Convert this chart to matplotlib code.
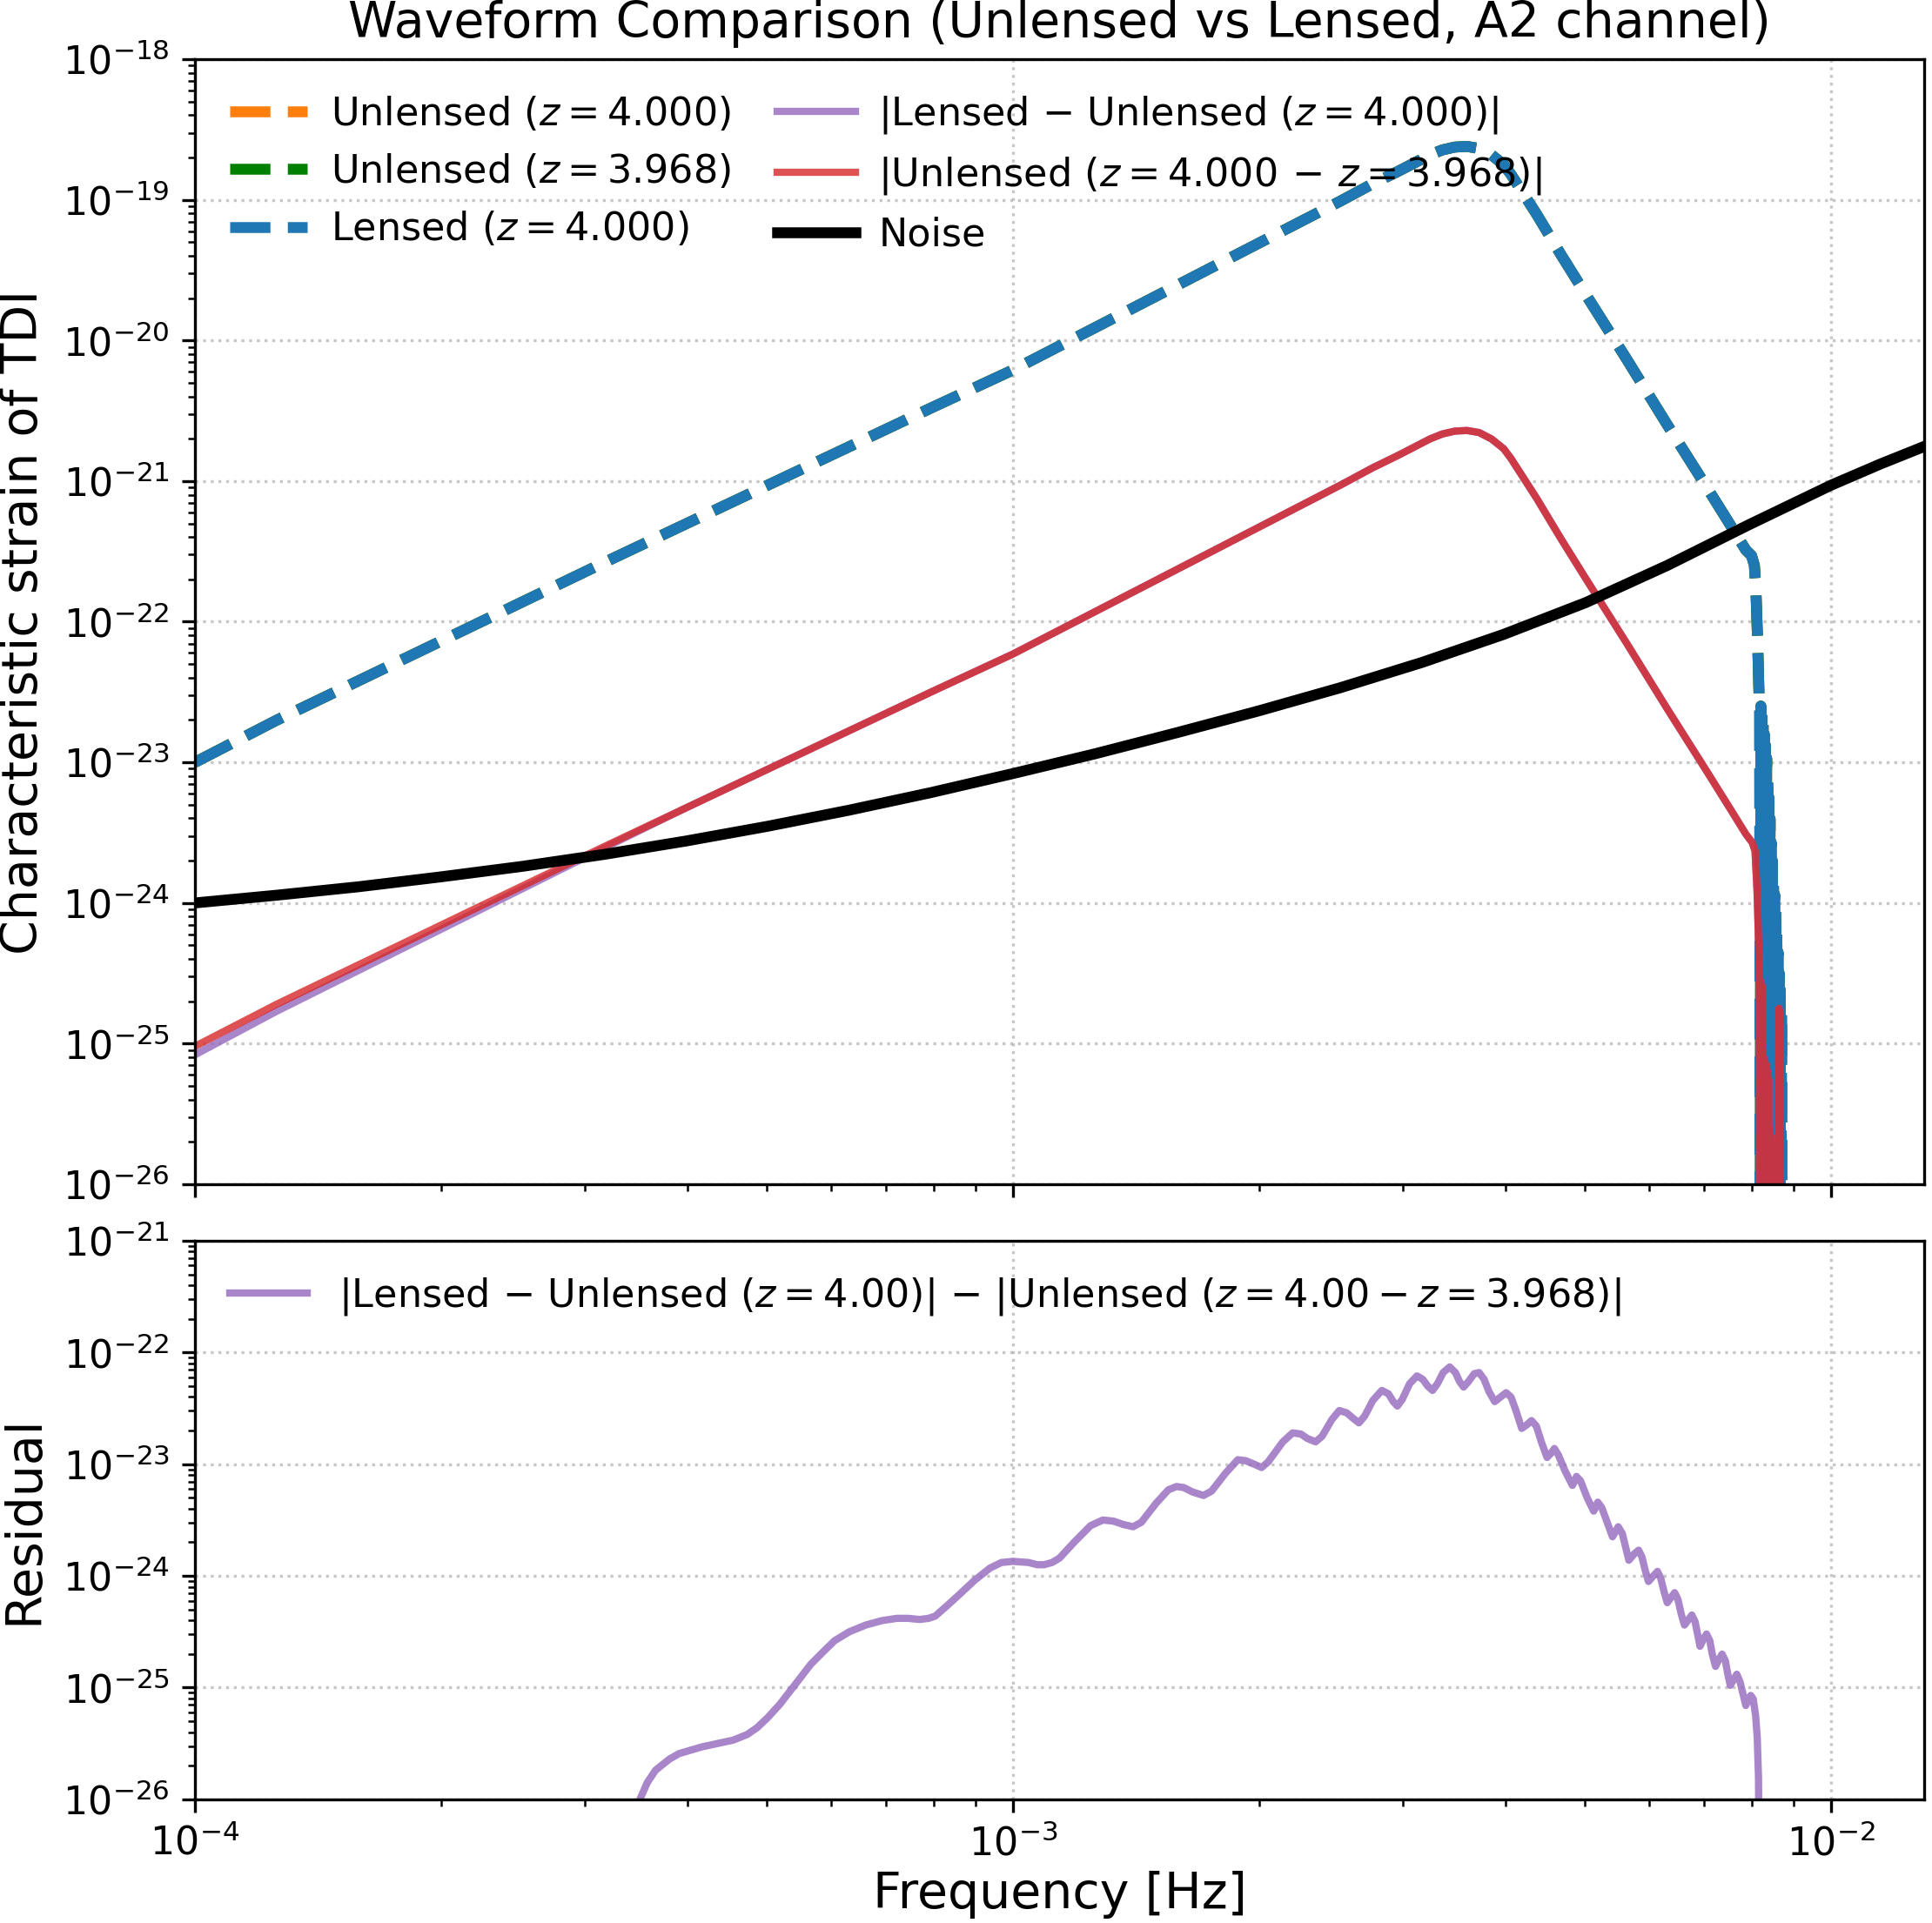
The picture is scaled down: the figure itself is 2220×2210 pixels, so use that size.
import numpy as np
import matplotlib
matplotlib.use("Agg")
import matplotlib.pyplot as plt

# all curve values are stored as log10(frequency [Hz]) and log10(strain)

# lensed / unlensed signal (the three dashed curves coincide)
logf_signal = [-4.000, -3.900, -3.800, -3.700, -3.600, -3.500, -3.400, -3.300, -3.200,
               -3.100, -3.000, -2.950, -2.900, -2.850, -2.800, -2.750, -2.700, -2.650,
               -2.600, -2.560, -2.530, -2.510, -2.490, -2.475, -2.460, -2.445, -2.430,
               -2.415, -2.400, -2.391, -2.360, -2.330, -2.300, -2.250, -2.200, -2.150,
               -2.121, -2.104, -2.097, -2.0935, -2.0915, -2.0895, -2.0877,
               # ringdown
               -2.0870, -2.0863, -2.0856, -2.0849, -2.0842, -2.0835, -2.0828, -2.0821,
               -2.0814, -2.0807, -2.0800, -2.0793, -2.0786, -2.0779, -2.0772, -2.0765,
               -2.0758, -2.0751, -2.0744, -2.0737, -2.0730, -2.0723, -2.0716, -2.0709,
               -2.0702, -2.0695, -2.0688, -2.0681, -2.0674, -2.0667, -2.0660, -2.0653,
               -2.0646, -2.0639, -2.0632, -2.0625, -2.0618, -2.0611, -2.0604, -2.0597]
logh_signal = [-23.00, -22.70, -22.42, -22.14, -21.86, -21.58, -21.305, -21.03, -20.755,
               -20.48, -20.21, -20.06, -19.91, -19.76, -19.61, -19.46, -19.31, -19.16,
               -19.01, -18.885, -18.80, -18.74, -18.68, -18.645, -18.625, -18.62, -18.635,
               -18.68, -18.75, -18.82, -19.10, -19.39, -19.67, -20.13, -20.60, -21.06,
               -21.33, -21.49, -21.53, -21.60, -21.80, -22.15, -22.55,
               -22.56, -27.0, -22.60, -27.0, -22.66, -27.0, -22.73, -27.0,
               -22.80, -27.0, -22.88, -27.0, -22.97, -27.0, -23.10, -27.0,
               -23.25, -27.0, -23.40, -27.0, -23.57, -27.0, -23.70, -27.0,
               -23.82, -27.0, -23.94, -27.0, -24.05, -27.0, -24.20, -27.0,
               -24.35, -27.0, -24.50, -27.0, -24.62, -27.0, -24.77, -27.0]
logh_unl_z4000 = logh_signal
logh_unl_z3968 = logh_signal

# |Unlensed(z=4.000) - Unlensed(z=3.968)|
logf_diff = [-4.000, -3.900, -3.800, -3.700, -3.600, -3.500, -3.400, -3.300, -3.200,
             -3.100, -3.000, -2.950, -2.900, -2.850, -2.800, -2.750, -2.700, -2.650,
             -2.600, -2.560, -2.530, -2.510, -2.490, -2.475, -2.460, -2.445, -2.430,
             -2.415, -2.400, -2.391, -2.360, -2.330, -2.300, -2.250, -2.200, -2.150,
             -2.121, -2.104, -2.0962, -2.0927, -2.0902, -2.0881, -2.0867, -2.0862,
             # ringdown
             -2.0858, -2.0852, -2.0846, -2.0840, -2.0834, -2.0828, -2.0822, -2.0816,
             -2.0810, -2.0804, -2.0798, -2.0792, -2.0786, -2.0780, -2.0774, -2.0768,
             -2.0762, -2.0756, -2.0750, -2.0744, -2.0738, -2.0732, -2.0726, -2.0720,
             -2.0714, -2.0708, -2.0702, -2.0696, -2.0640, -2.0634, -2.0628, -2.0622,
             -2.0616]
logh_unl_diff = [-25.02, -24.72, -24.44, -24.16, -23.88, -23.60, -23.325, -23.05, -22.775,
                 -22.50, -22.23, -22.08, -21.93, -21.78, -21.63, -21.48, -21.33, -21.18,
                 -21.03, -20.905, -20.82, -20.76, -20.70, -20.665, -20.645, -20.64, -20.655,
                 -20.70, -20.77, -20.84, -21.12, -21.41, -21.69, -22.15, -22.62, -23.08,
                 -23.35, -23.51, -23.57, -23.63, -23.92, -24.33, -24.65, -27.0,
                 -24.56, -27.0, -24.58, -27.0, -25.05, -27.0, -25.10, -27.0,
                 -25.12, -27.0, -25.15, -27.0, -25.15, -27.0, -25.20, -27.0,
                 -25.25, -27.0, -25.60, -27.0, -25.65, -27.0, -25.70, -27.0,
                 -25.75, -27.0, -25.80, -27.0, -27.0, -24.75, -27.0, -24.78,
                 -27.0]
# |Lensed - Unlensed(z=4.000)|: same as above except at the lowest frequencies
logh_lens_diff = [-25.08, -24.77, -24.48, -24.19, -23.90, -23.61] + logh_unl_diff[6:]

# noise curve
logf_noise = [-4.0, -3.9, -3.8, -3.7, -3.6, -3.5, -3.4, -3.3, -3.2, -3.1, -3.0, -2.9,
              -2.8, -2.7, -2.6, -2.5, -2.4, -2.3, -2.2, -2.1, -2.0, -1.94, -1.88]
logh_noise = [-24.00, -23.945, -23.885, -23.815, -23.74, -23.655, -23.56, -23.455,
              -23.34, -23.215, -23.08, -22.94, -22.79, -22.635, -22.47, -22.29, -22.09,
              -21.865, -21.60, -21.31, -21.03, -20.88, -20.74]

# residual (bottom panel)
logf_resid = [-3.456, -3.447, -3.437, -3.420, -3.408, -3.380, -3.342, -3.325, -3.313,
              -3.300, -3.285, -3.266, -3.247, -3.232, -3.218, -3.200, -3.180, -3.160,
              -3.142, -3.128, -3.114, -3.103, -3.095, -3.081, -3.066, -3.047, -3.028,
              -3.014, -3.000, -2.981, -2.970, -2.962, -2.952, -2.943, -2.924, -2.905,
              -2.890, -2.877, -2.865, -2.853, -2.843, -2.825, -2.810, -2.800, -2.791,
              -2.780, -2.767, -2.757, -2.740, -2.725, -2.715, -2.705, -2.696, -2.688,
              -2.670, -2.658, -2.648, -2.640, -2.630, -2.622, -2.610, -2.601, -2.592,
              -2.584, -2.577, -2.570, -2.560, -2.549, -2.541, -2.535, -2.530, -2.524,
              -2.515, -2.506, -2.499, -2.493, -2.487, -2.481, -2.474, -2.466, -2.459,
              -2.454, -2.449, -2.443, -2.436, -2.430, -2.424, -2.418, -2.411, -2.404,
              -2.397, -2.391, -2.385, -2.378, -2.372, -2.366, -2.360, -2.354, -2.347,
              -2.342, -2.338, -2.333, -2.325, -2.316, -2.313, -2.311, -2.306, -2.298,
              -2.290, -2.287, -2.285, -2.280, -2.273, -2.267, -2.263, -2.260, -2.255,
              -2.251, -2.247, -2.240, -2.235, -2.231, -2.227, -2.223, -2.217, -2.212,
              -2.208, -2.204, -2.200, -2.195, -2.191, -2.187, -2.183, -2.179, -2.174,
              -2.170, -2.166, -2.163, -2.160, -2.156, -2.152, -2.148, -2.145, -2.141,
              -2.137, -2.133, -2.129, -2.126, -2.123, -2.119, -2.115, -2.111, -2.107,
              -2.104, -2.101, -2.098, -2.095, -2.092, -2.090, -2.0885, -2.088]
logr_resid = [-26.00, -25.85, -25.74, -25.64, -25.59, -25.53, -25.47, -25.42, -25.36,
              -25.27, -25.15, -24.97, -24.79, -24.68, -24.58, -24.50, -24.44, -24.40,
              -24.38, -24.38, -24.39, -24.38, -24.36, -24.27, -24.17, -24.04, -23.93,
              -23.88, -23.87, -23.88, -23.90, -23.90, -23.88, -23.84, -23.69, -23.55,
              -23.50, -23.51, -23.54, -23.56, -23.52, -23.35, -23.23, -23.20, -23.21,
              -23.25, -23.28, -23.24, -23.08, -22.96, -22.97, -23.00, -23.03, -22.98,
              -22.80, -22.72, -22.73, -22.77, -22.80, -22.75, -22.60, -22.52, -22.54,
              -22.59, -22.63, -22.57, -22.43, -22.34, -22.37, -22.44, -22.48, -22.42,
              -22.28, -22.21, -22.24, -22.30, -22.34, -22.28, -22.18, -22.13, -22.18,
              -22.26, -22.31, -22.26, -22.19, -22.18, -22.24, -22.35, -22.44, -22.40,
              -22.36, -22.40, -22.52, -22.68, -22.65, -22.61, -22.66, -22.80, -22.94,
              -22.90, -22.86, -22.92, -23.06, -23.19, -23.15, -23.11, -23.15, -23.30,
              -23.42, -23.38, -23.34, -23.39, -23.53, -23.65, -23.60, -23.56, -23.62,
              -23.74, -23.86, -23.80, -23.77, -23.83, -23.95, -24.05, -24.00, -23.96,
              -24.02, -24.14, -24.24, -24.19, -24.15, -24.21, -24.34, -24.44, -24.39,
              -24.35, -24.41, -24.52, -24.63, -24.57, -24.52, -24.58, -24.70, -24.81,
              -24.75, -24.70, -24.76, -24.88, -24.98, -24.93, -24.88, -24.95, -25.07,
              -25.16, -25.11, -25.07, -25.10, -25.25, -25.45, -25.80, -26.30]


def p10(a):
    return 10.0 ** np.asarray(a)


fig = plt.figure(figsize=(7.4, 7.3667), dpi=300)
ax1 = fig.add_axes([0.1009, 0.3842, 0.8950, 0.5850])
ax2 = fig.add_axes([0.1009, 0.0643, 0.8950, 0.2905], sharex=ax1)

ax1.plot(p10(logf_signal), p10(logh_unl_z4000), '--', color='tab:orange', lw=3,
         label=r'Unlensed ($z = 4.000$)')
ax1.plot(p10(logf_signal), p10(logh_unl_z3968), '--', color='green', lw=3,
         label=r'Unlensed ($z = 3.968$)')
ax1.plot(p10(logf_signal), p10(logh_signal), '--', color='tab:blue', lw=3,
         label=r'Lensed ($z = 4.000$)')
ax1.plot(p10(logf_diff), p10(logh_lens_diff), '-', color='tab:purple', lw=2, alpha=0.8,
         label=r'$|$Lensed $-$ Unlensed ($z = 4.000$)$|$')
ax1.plot(p10(logf_diff), p10(logh_unl_diff), '-', color='tab:red', lw=2, alpha=0.8,
         label=r'$|$Unlensed ($z = 4.000\,-\,z = 3.968$)$|$')
ax1.plot(p10(logf_noise), p10(logh_noise), '-', color='black', lw=3, label='Noise')

ax1.set_xscale('log')
ax1.set_yscale('log')
ax1.set_xlim(1e-4, 1.3e-2)
ax1.set_ylim(1e-26, 1e-18)
ax1.set_ylabel('Characteristic strain of TDI', fontsize=13.7)
ax1.set_title('Waveform Comparison (Unlensed vs Lensed, A2 channel)', fontsize=13.7)
ax1.grid(True, which='major', ls=':', alpha=0.7)
ax1.tick_params(labelsize=10.7)
ax1.tick_params(labelbottom=False)
ax1.legend(ncol=2, loc='upper left', frameon=False, fontsize=10.7,
           handletextpad=0.6, columnspacing=1.2)

ax2.plot(p10(logf_resid), p10(logr_resid), '-', color='tab:purple', lw=2, alpha=0.8,
         label=r'$|$Lensed $-$ Unlensed ($z = 4.00$)$|$ $-$ '
               r'$|$Unlensed ($z = 4.00 - z = 3.968$)$|$')
ax2.set_yscale('log')
ax2.set_ylim(1e-26, 1e-21)
ax2.set_xlabel('Frequency [Hz]', fontsize=13.7, labelpad=2)
ax2.set_ylabel('Residual', fontsize=13.7)
ax2.grid(True, which='major', ls=':', alpha=0.7)
ax2.tick_params(labelsize=10.7)
ax2.legend(loc='upper left', frameon=False, fontsize=10.7)

fig.savefig('out.png', dpi=300)
